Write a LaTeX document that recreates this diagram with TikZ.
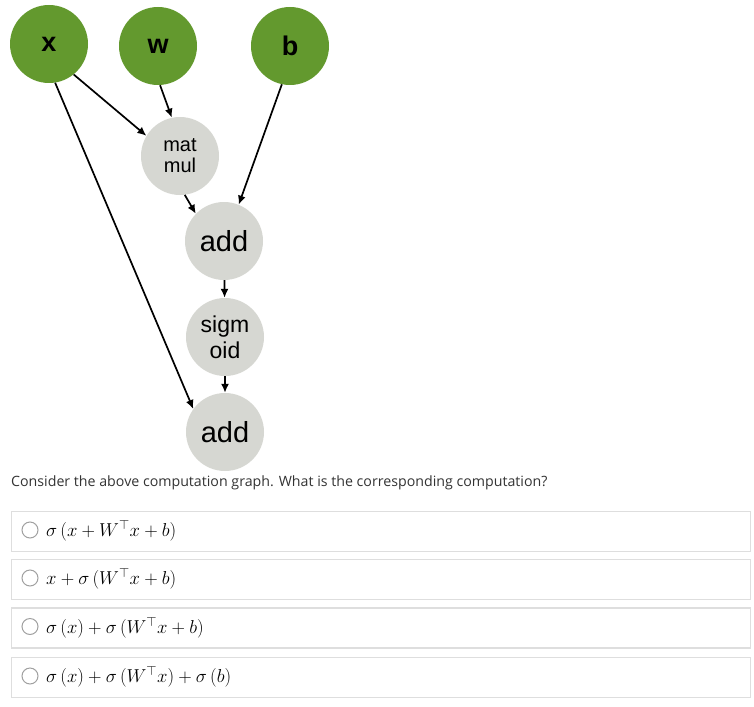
\RequirePackage{fix-cm}
\documentclass[tikz,border=0pt]{standalone}
\usepackage[no-math]{fontspec}
\setmainfont{Liberation Sans}
\newfontfamily\uifont{Open Sans}
\usetikzlibrary{arrows.meta}
\definecolor{leaf}{RGB}{99,153,46}
\definecolor{opgray}{RGB}{214,215,210}
\definecolor{boxline}{RGB}{222,222,222}
\definecolor{radio}{RGB}{160,160,160}
\definecolor{prompt}{RGB}{51,51,51}

\begin{document}
\begin{tikzpicture}[x=1pt,y=-1pt,
		leafnode/.style={circle,fill=leaf,minimum size=78pt,inner sep=0pt,font=\fontsize{27}{28}\selectfont\bfseries},
		opnode/.style={circle,fill=opgray,minimum size=78pt,inner sep=0pt,align=center},
		flow/.style={-{Latex[length=9pt,width=8pt]},line width=1.7pt},
		choice/.style={draw=boxline,line width=1.3pt,minimum width=739pt,minimum height=40pt,inner sep=0pt,anchor=west},
		radiobtn/.style={circle,draw=radio,line width=1pt,minimum size=16pt,inner sep=0pt},
		formula/.style={anchor=west,inner sep=0pt,font=\fontsize{18.7}{22}\selectfont}]
	\useasboundingbox (0,0) rectangle (754,706);
	% graph
	\node[leafnode] (x) at (49,44) {x};
	\node[leafnode] (w) at (158,46) {w};
	\node[leafnode] (b) at (290,46) {b};
	\node[opnode,font=\fontsize{20}{21}\selectfont] (matmul) at (180,156) {mat\\mul};
	\node[opnode,font=\fontsize{29}{30}\selectfont] (add1) at (224,241) {add};
	\node[opnode,font=\fontsize{23}{26}\selectfont] (sigmoid) at (225,337) {sigm\\oid};
	\node[opnode,font=\fontsize{29}{30}\selectfont] (add2) at (225,432) {add};
	\draw[flow] (x.-51) -- (matmul.149);
	\draw[flow] (x.-81) -- (add2.144);
	\draw[flow] (w.-87) -- (matmul.102);
	\draw[flow] (b.-102) -- (add1.68);
	\draw[flow] (matmul.-83) -- (add1.136);
	\draw[flow] (add1) -- (sigmoid);
	\draw[flow] (sigmoid) -- (add2);
	% question
	\node[anchor=base west,inner sep=0pt,text=prompt,font=\uifont\fontsize{14.2}{16}\selectfont] (prompt) at (11,486) {Consider the above computation graph. What is the corresponding computation?};
	\node[choice] (opt1) at (11,531.5) {};
	\node[choice] (opt2) at (11,579.5) {};
	\node[choice] (opt3) at (11,628) {};
	\node[choice] (opt4) at (11,677.5) {};
	\node[radiobtn] (r1) at (30,530) {};
	\node[radiobtn] (r2) at (30,578) {};
	\node[radiobtn] (r3) at (30,626.5) {};
	\node[radiobtn] (r4) at (30,676) {};
	\node[formula] (f1) at (46,531) {$\sigma\,(x+W^{\top}x+b)$};
	\node[formula] (f2) at (46,579) {$x+\sigma\,(W^{\top}x+b)$};
	\node[formula] (f3) at (46,627.5) {$\sigma\,(x)+\sigma\,(W^{\top}x+b)$};
	\node[formula] (f4) at (46,677) {$\sigma\,(x)+\sigma\,(W^{\top}x)+\sigma\,(b)$};
\end{tikzpicture}
\end{document}
